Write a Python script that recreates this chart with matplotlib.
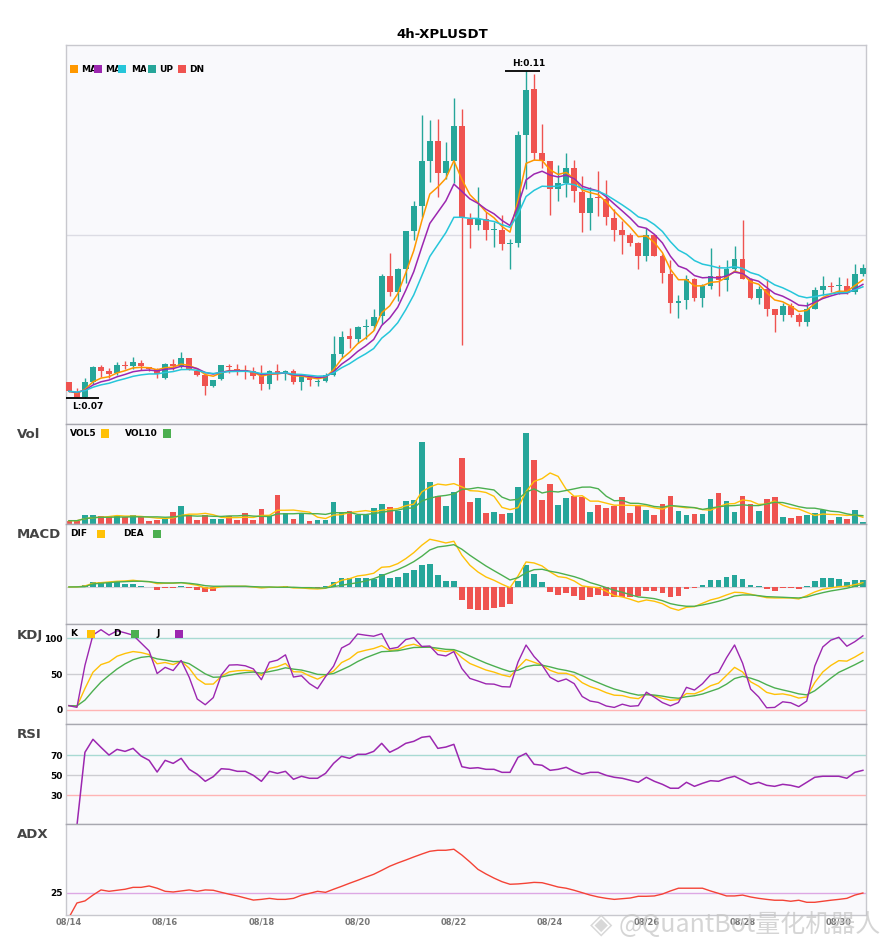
import numpy as np
import pandas as pd
import matplotlib
matplotlib.use("Agg")
import matplotlib.pyplot as plt
from matplotlib.patches import Rectangle
from matplotlib.transforms import Bbox

plt.rcParams['font.family'] = ['DejaVu Sans']

# ---------------- data ----------------
title = "4h-XPLUSDT"
tick_labels = ["08/14", "08/16", "08/18", "08/20", "08/22", "08/24", "08/26", "08/28", "08/30"]
tick_step = 12  # candles between date labels (4h bars)
ma_spans = [5, 8, 13]

opens = [0.07188, 0.07065, 0.07009, 0.07188, 0.07377, 0.07331, 0.07298, 0.07393, 0.07384, 0.07426,
         0.07377, 0.07344, 0.07242, 0.07417, 0.07384, 0.07487, 0.07323, 0.07274, 0.07139, 0.07233,
         0.07384, 0.07352, 0.07335, 0.07328, 0.07261, 0.07160, 0.07328, 0.07303, 0.07328, 0.07188,
         0.07242, 0.07193, 0.07200, 0.07282, 0.07528, 0.07752, 0.07712, 0.07863, 0.07875, 0.08006,
         0.08488, 0.08292, 0.08571, 0.09041, 0.09347, 0.09899, 0.10153, 0.09757, 0.09899, 0.10337,
         0.09193, 0.09114, 0.09193, 0.09053, 0.09061, 0.08886, 0.08898, 0.10218, 0.10779, 0.09994,
         0.09899, 0.09561, 0.09626, 0.09810, 0.09524, 0.09266, 0.09450, 0.09438, 0.09205, 0.09061,
         0.08988, 0.08890, 0.08742, 0.08988, 0.08742, 0.08521, 0.08162, 0.08194, 0.08448, 0.08215,
         0.08366, 0.08497, 0.08439, 0.08579, 0.08702, 0.08460, 0.08215, 0.08334, 0.08080, 0.08018,
         0.08129, 0.08018, 0.07924, 0.08092, 0.08325, 0.08374, 0.08366, 0.08374, 0.08292, 0.08521]

highs = [0.07193, 0.07119, 0.07237, 0.07384, 0.07393, 0.07364, 0.07433, 0.07445, 0.07499, 0.07458,
         0.07380, 0.07364, 0.07426, 0.07475, 0.07561, 0.07491, 0.07364, 0.07303, 0.07221, 0.07405,
         0.07417, 0.07417, 0.07405, 0.07380, 0.07393, 0.07335, 0.07417, 0.07340, 0.07352, 0.07270,
         0.07261, 0.07233, 0.07303, 0.07752, 0.07814, 0.07855, 0.07883, 0.07966, 0.08080, 0.08521,
         0.08775, 0.08591, 0.09049, 0.09409, 0.10460, 0.10403, 0.10420, 0.10133, 0.10669, 0.10534,
         0.09266, 0.09580, 0.09274, 0.09151, 0.09245, 0.08947, 0.10268, 0.11004, 0.10975, 0.10350,
         0.09899, 0.09847, 0.09994, 0.09912, 0.09715, 0.09585, 0.09777, 0.09666, 0.09315, 0.09163,
         0.09021, 0.08906, 0.09082, 0.09012, 0.08755, 0.08693, 0.08252, 0.08509, 0.08469, 0.08387,
         0.08837, 0.08628, 0.08693, 0.08865, 0.09184, 0.08469, 0.08366, 0.08448, 0.08088, 0.08162,
         0.08162, 0.08039, 0.08169, 0.08358, 0.08497, 0.08415, 0.08481, 0.08464, 0.08632, 0.08632]

lows = [0.07070, 0.07004, 0.06996, 0.07160, 0.07254, 0.07237, 0.07274, 0.07344, 0.07344, 0.07335,
        0.07331, 0.07242, 0.07229, 0.07335, 0.07364, 0.07335, 0.07261, 0.07028, 0.07131, 0.07212,
        0.07303, 0.07282, 0.07229, 0.07233, 0.07090, 0.07102, 0.07221, 0.07221, 0.07172, 0.07090,
        0.07147, 0.07139, 0.07188, 0.07261, 0.07487, 0.07610, 0.07671, 0.07720, 0.07834, 0.07896,
        0.08243, 0.08182, 0.08399, 0.08930, 0.09217, 0.09642, 0.09463, 0.09683, 0.09626, 0.07650,
        0.08837, 0.09061, 0.08930, 0.08849, 0.08807, 0.08579, 0.08849, 0.09561, 0.09920, 0.09818,
        0.09245, 0.09409, 0.09463, 0.09396, 0.09028, 0.09053, 0.09225, 0.09114, 0.08918, 0.08755,
        0.08856, 0.08571, 0.08672, 0.08734, 0.08407, 0.08039, 0.07978, 0.08088, 0.08182, 0.08113,
        0.08334, 0.08243, 0.08304, 0.08550, 0.08448, 0.08211, 0.08153, 0.07998, 0.07801, 0.07936,
        0.07990, 0.07883, 0.07883, 0.08088, 0.08252, 0.08292, 0.08276, 0.08264, 0.08276, 0.08488]

closes = [0.07077, 0.07009, 0.07188, 0.07377, 0.07331, 0.07291, 0.07393, 0.07384, 0.07433, 0.07384,
          0.07356, 0.07291, 0.07417, 0.07384, 0.07487, 0.07356, 0.07274, 0.07139, 0.07221, 0.07393,
          0.07377, 0.07335, 0.07328, 0.07270, 0.07168, 0.07328, 0.07303, 0.07331, 0.07188, 0.07261,
          0.07209, 0.07200, 0.07282, 0.07528, 0.07740, 0.07720, 0.07867, 0.07871, 0.07990, 0.08488,
          0.08292, 0.08571, 0.09041, 0.09347, 0.09899, 0.10153, 0.09757, 0.09899, 0.10337, 0.09217,
          0.09114, 0.09193, 0.09053, 0.09061, 0.08886, 0.08890, 0.10215, 0.10767, 0.09994, 0.09899,
          0.09561, 0.09626, 0.09810, 0.09531, 0.09266, 0.09450, 0.09442, 0.09217, 0.09061, 0.08988,
          0.08890, 0.08742, 0.09000, 0.08742, 0.08530, 0.08162, 0.08190, 0.08448, 0.08215, 0.08374,
          0.08497, 0.08439, 0.08579, 0.08702, 0.08460, 0.08215, 0.08334, 0.08080, 0.08018, 0.08129,
          0.08018, 0.07924, 0.08092, 0.08325, 0.08374, 0.08358, 0.08374, 0.08292, 0.08521, 0.08583]

volumes = [33, 33, 93, 93, 83, 67, 83, 67, 93, 67,
           27, 37, 53, 123, 183, 93, 37, 93, 53, 53,
           77, 43, 110, 43, 153, 83, 293, 110, 53, 100,
           33, 43, 43, 223, 123, 133, 93, 93, 163, 203,
           173, 133, 233, 243, 813, 413, 283, 183, 313, 653,
           223, 263, 113, 123, 103, 113, 363, 903, 633, 243,
           393, 193, 263, 283, 273, 123, 193, 163, 183, 273,
           113, 183, 143, 93, 203, 283, 133, 93, 103, 103,
           253, 303, 233, 123, 283, 203, 133, 253, 273, 73,
           63, 83, 93, 113, 143, 43, 73, 53, 143, 23]

# MACD (units of 1e-4 USDT)
macd_dif = [0, 0, 1, 3.7, 4.3, 5, 5.7, 6, 6.7, 5.7,
            5.3, 3.3, 3.7, 3.7, 4.3, 3, 1.7, -1, -1.3, 0.3,
            0.7, 0.7, 0.7, 0, -1, -0.3, -0.3, 0.3, -1, -1,
            -1.7, -2, -1.3, 2.7, 6.7, 8.3, 11, 12, 13.7, 19.7,
            20.3, 23.3, 28.3, 34.3, 41.7, 47.7, 46, 44, 45.7, 31.7,
            21.7, 15, 10, 6.7, 2.7, -0.7, 11, 25, 24, 21,
            15, 10.3, 9.3, 6, 1, 0, -0.7, -4.3, -8.7, -10,
            -12.3, -15, -13, -14.3, -16.7, -21, -23.3, -20.3, -19.7, -16.3,
            -13, -11, -8, -5.3, -5.7, -7.3, -9, -10.7, -11, -11,
            -11, -12, -8.7, -5, -2.3, -1, 0.3, 0.7, 2.3, 4.3]

macd_dea = [0, 0.1, 0.3, 3, 3.7, 4.3, 5, 5.3, 5.7, 5.7,
            5.3, 4.3, 4, 4, 4.3, 3.7, 2.7, 1.3, 0.7, 0.7,
            0.7, 0.7, 0.7, 0.3, 0, 0, -0.3, -0.3, -0.3, -0.7,
            -0.7, -1, -1, 0.3, 1.7, 3, 4.3, 6, 8.3, 11.3,
            14.3, 17.3, 21, 25.3, 30.7, 37, 40, 41, 42.3, 37.7,
            31.7, 26.3, 21, 16.3, 11.7, 7, 9.3, 14.3, 17.3, 17.7,
            15.7, 14.3, 12.3, 10.3, 7.7, 4.3, 2, -0.7, -3.3, -5.3,
            -7.7, -10, -10.7, -11.7, -13.7, -16.7, -18.3, -19.3, -19.3, -18,
            -16.3, -14.3, -12, -9, -8, -8, -8.7, -9.7, -10, -10.3,
            -10.7, -11, -10, -7.7, -5.7, -4, -2.7, -1.3, 0.7, 2.7]

macd_hist = [0, 0, 1.7, 4.7, 4.7, 4, 4.7, 3, 3, 1,
             0.2, -2.7, -0.7, -0.7, 1.3, -0.7, -2.7, -5, -4, 0.3,
             0.2, 0.2, 0.2, -0.2, -0.3, -0.2, 0.2, 1, -0.3, -0.2,
             -1, -1, 1, 5, 8.7, 8.7, 9.3, 9.3, 8.3, 13.3,
             9, 10, 14, 17, 22, 23, 12, 6, 6, -12.7,
             -21.7, -22.7, -22.7, -20.7, -19.7, -16.7, 6, 22, 13, 5,
             -4.7, -7.7, -5.7, -8.7, -12.7, -9.7, -7.7, -8.7, -9.7, -9.7,
             -9.7, -8.7, -3.7, -3.7, -5.7, -9.7, -8.7, -1.7, -1, 2,
             7, 7, 10, 12, 8.3, 2, 1, -1.7, -3.7, -1,
             -1, -1.7, 1, 6, 9, 9, 8, 5, 7, 7]

rsi_values = [np.nan, 0.0, 72.7, 85.6, 77.6, 70.0, 75.6, 73.6, 76.6, 69.0,
              64.7, 53.1, 64.7, 61.7, 66.7, 55.8, 50.9, 43.9, 48.5, 56.4,
              55.8, 53.8, 53.8, 49.8, 43.9, 53.8, 51.8, 53.8, 45.9, 48.9,
              46.9, 46.9, 51.8, 61.7, 68.7, 66.7, 70.7, 70.7, 73.6, 81.6,
              72.7, 76.6, 81.6, 83.6, 87.6, 88.6, 76.6, 77.9, 80.6, 58.4,
              56.8, 57.4, 55.8, 55.8, 52.8, 52.8, 67.7, 71.7, 60.8, 59.8,
              54.8, 55.8, 57.8, 53.8, 50.9, 52.8, 52.8, 49.8, 47.9, 46.9,
              44.9, 42.9, 47.9, 43.9, 40.9, 37.0, 37.0, 42.9, 38.9, 41.9,
              44.5, 43.9, 46.9, 48.9, 44.9, 40.9, 42.9, 39.9, 38.9, 40.9,
              39.9, 38.0, 42.9, 47.9, 48.9, 48.9, 48.9, 46.9, 52.8, 54.8]

adx_values = [10.5, 19.0, 20.2, 23.6, 26.6, 25.8, 26.4, 27.0, 28.1, 28.1,
              28.9, 27.6, 25.8, 25.4, 26.0, 26.6, 25.8, 26.6, 26.4, 25.2,
              24.1, 23.1, 21.9, 20.7, 21.1, 21.7, 21.1, 21.1, 21.7, 23.5,
              24.6, 25.8, 25.2, 27.0, 28.7, 30.5, 32.2, 34.0, 35.7, 38.0,
              40.4, 42.3, 44.0, 45.8, 47.5, 49.1, 49.7, 49.7, 50.3, 46.9,
              42.9, 38.6, 35.9, 33.5, 31.4, 29.9, 30.1, 30.5, 31.0, 30.8,
              29.6, 28.3, 27.6, 26.4, 25.0, 23.6, 22.5, 21.7, 21.1, 21.5,
              21.9, 22.9, 22.9, 23.1, 24.2, 26.0, 27.6, 27.6, 27.6, 27.6,
              26.0, 24.6, 23.1, 23.1, 23.6, 22.5, 21.7, 21.1, 20.6, 20.6,
              20.0, 20.6, 19.4, 19.4, 20.0, 20.6, 21.1, 21.7, 23.6, 24.8]

# ---------------- indicators derived from the OHLCV above ----------------
df = pd.DataFrame({"open": opens, "high": highs, "low": lows, "close": closes, "vol": volumes})
ma_fast, ma_mid, ma_slow = [df.close.ewm(span=s, adjust=False).mean() for s in ma_spans]
vol5 = df.vol.rolling(5, min_periods=1).mean()
vol10 = df.vol.rolling(10, min_periods=1).mean()
low9 = df.low.rolling(9, min_periods=1).min()
high9 = df.high.rolling(9, min_periods=1).max()
rsv = (df.close - low9) / (high9 - low9) * 100
k_line = rsv.ewm(com=2, adjust=False).mean()
d_line = k_line.ewm(com=2, adjust=False).mean()
j_line = 3 * k_line - 2 * d_line

# ---------------- style ----------------
UP, DN = "#26A69A", "#EF5350"
C_MA5, C_MA10, C_MA20 = "#FF9800", "#9C27B0", "#26C6DA"
C_YEL, C_GRN, C_PUR = "#FFC107", "#4CAF50", "#9C27B0"
FACE = "#F9F9FC"
SPINE = "#C8C8CE"
SEP = "#A8A8B0"

W, H = 885, 950
fig = plt.figure(figsize=(W / 100, H / 100), dpi=100)
fig.patch.set_facecolor("white")


def fx(x):
    return x / W


def fy(y):
    return 1 - y / H


LEFT, RIGHT = 65.7, 865.7
n = len(closes)
idx = np.arange(n)


def add_panel(top, bottom, sep_top=True):
    ax = fig.add_axes([fx(LEFT), fy(bottom), (RIGHT - LEFT) / W, (bottom - top) / H])
    ax.set_facecolor(FACE)
    for s in ax.spines.values():
        s.set_color(SPINE)
        s.set_linewidth(1.0)
    if sep_top:
        ax.spines["top"].set_color(SEP)
    ax.set_xlim(-0.4, n - 0.65)
    ax.set_xticks(idx[::tick_step])
    ax.set_xticklabels([])
    ax.tick_params(axis="both", length=0, pad=2)
    ax.set_yticks([])
    return ax


o = np.array(opens); h = np.array(highs); l = np.array(lows); c = np.array(closes)
up = c >= o
cols = np.where(up, UP, DN)

# ---------------- main price panel ----------------
ax = add_panel(45, 424, sep_top=False)
lo, hi = l.min(), h.max()
rng = hi - lo
ax.set_ylim(lo - 0.08 * rng, hi + 0.08 * rng)
ax.axhline((lo + hi) / 2, color="#DCDCE4", lw=1.0, zorder=1)
ax.vlines(idx, l, h, colors=cols, lw=1.0, zorder=2)
body = np.maximum(np.abs(c - o), rng * 0.003)
ax.bar(idx, body, bottom=np.minimum(o, c), width=0.72, color=cols, linewidth=0, zorder=3)
ax.plot(idx, ma_fast, color=C_MA5, lw=1.1, zorder=4)
ax.plot(idx, ma_mid, color=C_MA10, lw=1.1, zorder=4)
ax.plot(idx, ma_slow, color=C_MA20, lw=1.1, zorder=4)
hi_i, lo_i = int(np.argmax(h)), int(np.argmin(l))
ax.hlines(h[hi_i], hi_i - 2.6, hi_i + 1.8, color="black", lw=1.3, zorder=5)
ax.annotate(f"H:{h[hi_i]:.2f}", (hi_i + 0.3, h[hi_i]), xytext=(0, 2.5), textcoords="offset points",
            ha="center", va="bottom", fontsize=6.5, fontweight="bold", zorder=6)
ax.hlines(l[lo_i], lo_i - 2.6, lo_i + 1.8, color="black", lw=1.3, zorder=5)
ax.annotate(f"L:{l[lo_i]:.2f}", (lo_i + 0.3, l[lo_i]), xytext=(0, -3), textcoords="offset points",
            ha="center", va="top", fontsize=6.5, fontweight="bold", zorder=6)

fig.text(0.5, fy(34), title, ha="center", va="center", fontsize=9.5, fontweight="bold")


def legend_square(x0, ycen, color, size=8):
    fig.add_artist(Rectangle((fx(x0), fy(ycen + size / 2)), size / W, size / H,
                             transform=fig.transFigure, facecolor=color, edgecolor="none", zorder=11))


def legend_text(x0, ycen, s, clip_right=None):
    t = fig.text(fx(x0), fy(ycen), s, ha="left", va="center", fontsize=6.5, fontweight="bold", zorder=10)
    if clip_right is not None:
        t.set_clip_box(Bbox([[x0 - 2, H - ycen - 10], [clip_right, H - ycen + 10]]))
        t.set_clip_on(True)
    return t


# (label, colour, square x, text x, clip x)
main_items = [(f"MA{ma_spans[0]}", C_MA5, 70.0, 81.3, 94.3),
              (f"MA{ma_spans[1]}", C_MA10, 94.3, 105.3, 118.3),
              (f"MA{ma_spans[2]}", C_MA20, 118.3, 131.0, 146.0),
              ("UP", UP, 148.3, 159.3, None),
              ("DN", DN, 177.7, 189.0, None)]
for lab, colr, xs, xt, xc in main_items:
    legend_square(xs, 69, colr)
    legend_text(xt, 69.3, lab, clip_right=xc)

# ---------------- volume ----------------
axv = add_panel(424, 524)
axv.bar(idx, df.vol, width=0.72, color=cols, linewidth=0, zorder=2)
axv.plot(idx, vol5, color=C_YEL, lw=1.0, zorder=3)
axv.plot(idx, vol10, color=C_GRN, lw=1.0, zorder=3)
axv.set_ylim(0, df.vol.max() * 1.1)

# ---------------- MACD ----------------
axm = add_panel(524, 624)
hist = np.array(macd_hist)
hcols = np.where(hist >= 0, UP, DN)
axm.axhline(0, color="#D0D0D6", lw=0.8, zorder=1)
axm.bar(idx, hist, width=0.72, color=hcols, linewidth=0, zorder=2)
axm.plot(idx, macd_dif, color=C_YEL, lw=1.0, zorder=3)
axm.plot(idx, macd_dea, color=C_GRN, lw=1.0, zorder=3)
mx = max(max(macd_dif), max(macd_dea), hist.max())
mn = min(min(macd_dif), min(macd_dea), hist.min())
axm.set_ylim(mn * 1.59, mx * 1.32)

# ---------------- KDJ ----------------
axk = add_panel(624, 724)
axk.axhline(100, color="#A8DAD3", lw=1.0, zorder=1)
axk.axhline(50, color="#CDCDD2", lw=1.0, zorder=1)
axk.axhline(0, color="#FFB4B4", lw=1.0, zorder=1)
axk.plot(idx, k_line, color=C_YEL, lw=1.0, zorder=3)
axk.plot(idx, d_line, color=C_GRN, lw=1.0, zorder=3)
axk.plot(idx, j_line, color=C_PUR, lw=1.0, zorder=3)
axk.set_ylim(-20, 120)
axk.set_yticks([0, 50, 100])
axk.set_yticklabels(["0", "50", "100"], fontsize=6.5, fontweight="bold")

# ---------------- RSI ----------------
axr = add_panel(724, 824)
axr.axhline(70, color="#A8DAD3", lw=1.0, zorder=1)
axr.axhline(50, color="#CDCDD2", lw=1.0, zorder=1)
axr.axhline(30, color="#FFB4B4", lw=1.0, zorder=1)
axr.plot(idx, rsi_values, color=C_PUR, lw=1.1, zorder=3)
axr.set_ylim(1.5, 100.8)
axr.set_yticks([30, 50, 70])
axr.set_yticklabels(["30", "50", "70"], fontsize=6.5, fontweight="bold")

# ---------------- ADX ----------------
axa = add_panel(824, 915)
axa.axhline(25, color="#DDA8E4", lw=1.0, zorder=1)
axa.plot(idx, adx_values, color="#F44336", lw=1.0, zorder=3)
axa.set_ylim(12, 65)
axa.set_yticks([25])
axa.set_yticklabels(["25"], fontsize=6.5, fontweight="bold")
axa.set_xticklabels(tick_labels, fontsize=6, fontweight="bold", color="#777777")
axa.tick_params(axis="x", pad=2)

# ---------------- panel titles & legends ----------------
for lab, yc in [("Vol", 435), ("MACD", 535), ("KDJ", 635), ("RSI", 735), ("ADX", 835)]:
    fig.text(fx(17), fy(yc), lab, ha="left", va="center", fontsize=9.5, fontweight="bold", color="#444444")

for lab, colr, xt, xs in [("VOL5", C_YEL, 70, 101), ("VOL10", C_GRN, 125.3, 163)]:
    legend_text(xt, 433.7, lab)
    legend_square(xs, 433.5, colr)
for lab, colr, xt, xs in [("DIF", C_YEL, 70.3, 97), ("DEA", C_GRN, 123.3, 153)]:
    legend_text(xt, 533.7, lab)
    legend_square(xs, 533.5, colr)
for lab, colr, xt, xs in [("K", C_YEL, 70.3, 87.3), ("D", C_GRN, 113.3, 131), ("J", C_PUR, 156.7, 175)]:
    legend_text(xt, 633.7, lab)
    legend_square(xs, 633.5, colr)

# ---------------- watermark ----------------
fig.text(fx(601), fy(925), "\u25c8", ha="center", va="center", fontsize=21, color="#CFCFCF", alpha=0.8)
fig.text(fx(619), fy(925), "@QuantBot量化机器人", ha="left", va="center", fontsize=18,
         color="#C4C4C4", alpha=0.7, family=["Noto Sans CJK SC", "DejaVu Sans"])

fig.savefig("out.png", dpi=100)
